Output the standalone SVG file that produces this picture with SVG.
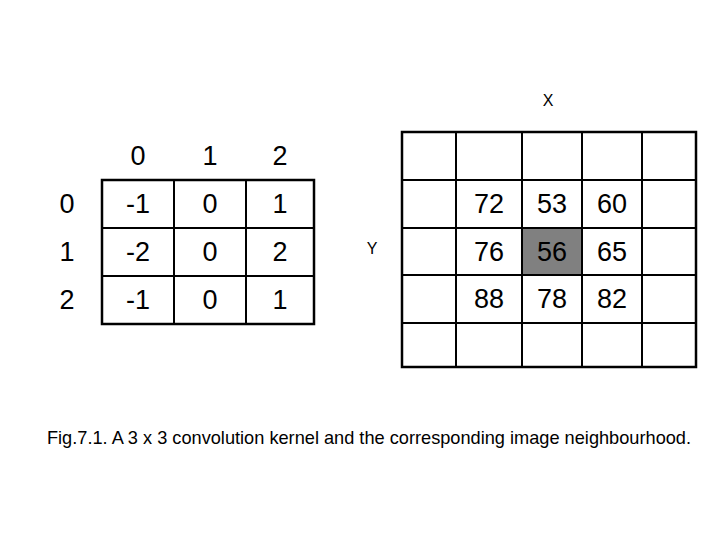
<svg xmlns="http://www.w3.org/2000/svg" width="720" height="540" viewBox="0 0 720 540">
<style>
text{font-family:"Liberation Sans",Arial,sans-serif;fill:#000;text-anchor:middle}
.n{font-size:27px}
.s{font-size:16px}
.c{font-size:18.2px}
line{stroke:#000;stroke-width:2}
rect.g{fill:none;stroke:#000;stroke-width:2.5}
</style>
<rect width="720" height="540" fill="#fff"/>
<g id="kernel">
<rect class="g" x="102" y="180" width="212" height="144"/>
<line x1="174" y1="180" x2="174" y2="324"/><line x1="246" y1="180" x2="246" y2="324"/>
<line x1="102" y1="228" x2="314" y2="228"/><line x1="102" y1="276" x2="314" y2="276"/>
<text class="n" x="138" y="165">0</text><text class="n" x="210" y="165">1</text><text class="n" x="280" y="165">2</text>
<text class="n" x="67" y="213">0</text><text class="n" x="67" y="261">1</text><text class="n" x="67" y="309">2</text>
<text class="n" x="138" y="213">-1</text><text class="n" x="210" y="213">0</text><text class="n" x="280" y="213">1</text>
<text class="n" x="138" y="261">-2</text><text class="n" x="210" y="261">0</text><text class="n" x="280" y="261">2</text>
<text class="n" x="138" y="309">-1</text><text class="n" x="210" y="309">0</text><text class="n" x="280" y="309">1</text>
</g>
<g id="image">
<rect x="522" y="228" width="60" height="47" fill="#808080"/>
<rect class="g" x="402" y="132" width="294" height="235"/>
<line x1="456" y1="132" x2="456" y2="367"/><line x1="522" y1="132" x2="522" y2="367"/>
<line x1="582" y1="132" x2="582" y2="367"/><line x1="642" y1="132" x2="642" y2="367"/>
<line x1="402" y1="180" x2="696" y2="180"/><line x1="402" y1="228" x2="696" y2="228"/>
<line x1="402" y1="275" x2="696" y2="275"/><line x1="402" y1="323" x2="696" y2="323"/>
<text class="n" x="489" y="213">72</text><text class="n" x="552" y="213">53</text><text class="n" x="612" y="213">60</text>
<text class="n" x="489" y="261">76</text><text class="n" x="552" y="261">56</text><text class="n" x="612" y="261">65</text>
<text class="n" x="489" y="308">88</text><text class="n" x="552" y="308">78</text><text class="n" x="612" y="308">82</text>
<text class="s" x="548" y="106">X</text>
<text class="s" x="372" y="254">Y</text>
</g>
<text class="c" x="369" y="444">Fig.7.1. A 3 x 3 convolution kernel and the corresponding image neighbourhood.</text>
</svg>
